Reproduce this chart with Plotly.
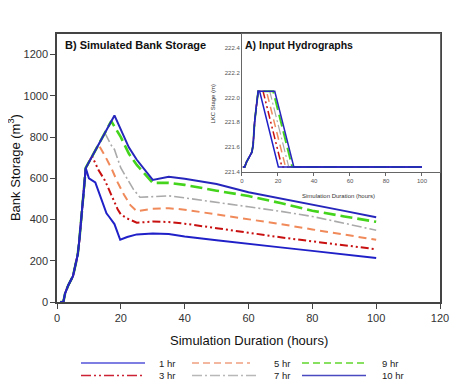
import plotly.graph_objects as go

# ---------------- data: B) simulated bank storage ----------------
rise_x = [1, 2, 2.5, 3.5, 5, 6, 6.5, 7, 7.5, 8, 8.5, 9]
rise_y = [0, 0, 40, 80, 125, 190, 230, 300, 400, 470, 560, 650]

s1_x = [10, 12, 13, 14, 15.5, 16.5, 18, 19.8, 22, 25, 30, 35, 40, 50, 60, 70, 80, 90, 100]
s1_y = [600, 580, 540, 500, 430, 410, 378, 302, 315, 328, 332, 330, 318, 300, 284, 265, 248, 230, 213]
s3_x = [11, 13, 15, 17, 19, 20, 22, 25, 30, 35, 40, 50, 60, 70, 80, 90, 100]
s3_y = [707, 640, 590, 520, 450, 425, 405, 385, 390, 388, 380, 358, 335, 314, 294, 274, 256]
s5_x = [13, 15, 17, 19, 21, 23, 25, 30, 35, 40, 50, 60, 70, 80, 90, 100]
s5_y = [763, 710, 650, 580, 520, 470, 440, 452, 455, 448, 425, 403, 378, 352, 327, 302]
s7_x = [15, 17, 18, 20, 22, 24, 26, 30, 35, 40, 50, 60, 70, 80, 90, 100]
s7_y = [820, 760, 740, 650, 600, 545, 508, 512, 515, 505, 482, 462, 440, 415, 382, 348]
s9_x = [17, 20, 22.5, 25, 28, 30, 35, 40, 50, 60, 70, 80, 90, 100]
s9_y = [877, 800, 720, 665, 610, 578, 578, 568, 540, 514, 480, 443, 415, 389]
s10_x = [18, 22.5, 25, 30, 35, 40, 50, 60, 70, 80, 90, 100]
s10_y = [905, 750, 690, 592, 608, 598, 572, 532, 503, 473, 442, 411]

# ---------------- data: A) input hydrographs ----------------
h_rise_t = [0.5, 1.5, 2.5, 3.5, 4.5, 5.5, 6.2, 7.0, 8.0, 9.0]
h_rise_s = [221.44, 221.44, 221.48, 221.51, 221.53, 221.56, 221.62, 221.80, 221.93, 222.05]
h_peak = 222.05
h_base = 221.44
h_end_t = 100
h_fall_start = {"1 hr": 9.8, "3 hr": 11.7, "5 hr": 13.6, "7 hr": 15.4, "9 hr": 17.3, "10 hr": 18.2}
h_fall_end = {"1 hr": 20.2, "3 hr": 22.2, "5 hr": 24.2, "7 hr": 26.0, "9 hr": 27.9, "10 hr": 28.8}

labels = ["1 hr", "3 hr", "5 hr", "7 hr", "9 hr", "10 hr"]
x_ticks = [0, 20, 40, 60, 80, 100, 120]
y_ticks = [0, 200, 400, 600, 800, 1000, 1200]
ix_ticks = [0, 20, 40, 60, 80, 100]
iy_ticks = [221.4, 221.6, 221.8, 222.0, 222.2, 222.4]

styles = {
    "1 hr": dict(color="#2020c8", width=2, dash="solid"),
    "3 hr": dict(color="#c81010", width=2, dash="8px,3px,2px,3px,2px,3px"),
    "5 hr": dict(color="#f08a5a", width=2, dash="8px,5px"),
    "7 hr": dict(color="#aaaaaa", width=1.6, dash="10px,3px,2px,3px"),
    "9 hr": dict(color="#44d41c", width=2.6, dash="12px,5px"),
    "10 hr": dict(color="#2626bc", width=2, dash="solid"),
}
legend_styles = {
    "1 hr": dict(color="#5252d8", width=1.3, dash="solid"),
    "3 hr": dict(color="#cc2233", width=1.6, dash="10px,3px,2px,3px,2px,3px"),
    "5 hr": dict(color="#f0a080", width=1.5, dash="7px,4px"),
    "7 hr": dict(color="#b8b8b8", width=1.3, dash="10px,3px,2px,3px"),
    "9 hr": dict(color="#88e060", width=1.8, dash="7px,4px"),
    "10 hr": dict(color="#4a4ac0", width=1.3, dash="solid"),
}

main = {
    "1 hr": (s1_x, s1_y), "3 hr": (s3_x, s3_y), "5 hr": (s5_x, s5_y),
    "7 hr": (s7_x, s7_y), "9 hr": (s9_x, s9_y), "10 hr": (s10_x, s10_y),
}

FONT = "Arial, Liberation Sans, sans-serif"
fig = go.Figure()

order = ["3 hr", "5 hr", "7 hr", "9 hr", "1 hr", "10 hr"]
for lab in order:
    xs, ys = main[lab]
    fig.add_trace(go.Scatter(x=rise_x + xs, y=rise_y + ys, mode="lines",
                             line=styles[lab], name=lab, showlegend=False,
                             xaxis="x", yaxis="y"))

for lab in order:
    st = dict(styles[lab])
    st["width"] = st["width"] * 0.75
    t = h_rise_t + [h_fall_start[lab], h_fall_end[lab], h_end_t]
    s = h_rise_s + [h_peak, h_base, h_base]
    fig.add_trace(go.Scatter(x=t, y=s, mode="lines", line=st, name=lab,
                             showlegend=False, xaxis="x2", yaxis="y2"))

axcol = "#444444"
# page has an 8px body margin; figure is sized/offset to compensate
fig.update_layout(
    width=466, height=380,
    margin=dict(l=49, r=34, t=26, b=86),
    paper_bgcolor="white", plot_bgcolor="white",
    font=dict(family=FONT, color="#222"),
    xaxis=dict(range=[0, 120], tickvals=x_ticks, showgrid=False, zeroline=False,
               showline=True, linecolor=axcol, linewidth=1.5, mirror=True,
               ticks="outside", ticklen=5, tickcolor=axcol, automargin=False,
               tickfont=dict(size=11, color="#333")),
    yaxis=dict(range=[0, 1300], tickvals=y_ticks, showgrid=False, zeroline=False,
               showline=True, linecolor=axcol, linewidth=1.5, mirror=True,
               ticks="outside", ticklen=5, tickcolor=axcol, automargin=False,
               tickfont=dict(size=11, color="#333")),
    xaxis2=dict(domain=[0.483, 1.0], anchor="y2", range=[0, 110], tickvals=ix_ticks,
                showgrid=False, zeroline=False, showline=True, linecolor="#666",
                linewidth=1, mirror=True, ticks="outside", ticklen=3, tickcolor="#666",
                automargin=False, tickfont=dict(size=6, color="#555")),
    yaxis2=dict(domain=[0.485, 1.0], anchor="x2", range=[221.4, 222.51], tickvals=iy_ticks,
                tickformat=".1f", showgrid=False, zeroline=False, showline=True,
                linecolor="#666", linewidth=1, mirror=True, ticks="", automargin=False,
                tickfont=dict(size=6, color="#555")),
)

ann = [
    dict(text="<b>B) Simulated Bank Storage</b>", x=0.016, y=0.99, xanchor="left", yanchor="top",
         font=dict(size=11, color="#111")),
    dict(text="<b>A) Input Hydrographs</b>", x=0.486, y=0.99, xanchor="left", yanchor="top",
         font=dict(size=10.5, color="#111")),
    dict(text="Simulation Duration (hours)", x=0.5, y=-0.142, xanchor="center", yanchor="middle",
         font=dict(size=13, color="#111")),
    dict(text="Bank Storage (m<sup>3</sup>)", x=-0.112, y=0.5, xanchor="center", yanchor="middle",
         textangle=-90, font=dict(size=13, color="#111")),
    dict(text="LKC Stage (m)", x=0.407, y=0.74, xanchor="center", yanchor="middle",
         textangle=-90, font=dict(size=6, color="#333")),
    dict(text="Simulation Duration (hours)", x=0.736, y=0.395, xanchor="center", yanchor="middle",
         font=dict(size=6, color="#333")),
]
for a in ann:
    a.update(xref="paper", yref="paper", showarrow=False)
    fig.add_annotation(**a)

# manual legend (reference pixel positions converted to paper coords)
W_PLOT, H_PLOT, L, T = 383, 268, 57, 34
def px(xp):
    return (xp - L) / W_PLOT
def py(yp):
    return 1 - (yp - T) / H_PLOT

legend_pos = {
    "1 hr": (81, 145, 157, 363), "3 hr": (81, 145, 157, 375.5),
    "5 hr": (192, 250, 272, 363), "7 hr": (192, 256, 272, 375.5),
    "9 hr": (302, 366, 380, 363), "10 hr": (302, 366, 380, 375.5),
}
for lab, (x0, x1, xt, yy) in legend_pos.items():
    st = legend_styles[lab]
    fig.add_shape(type="line", xref="paper", yref="paper", x0=px(x0), x1=px(x1),
                  y0=py(yy), y1=py(yy),
                  line=dict(color=st["color"], width=st["width"], dash=st["dash"]))
    fig.add_annotation(text=lab, xref="paper", yref="paper", x=px(xt), y=py(yy),
                       xanchor="left", yanchor="middle", showarrow=False,
                       font=dict(size=9.5, color="#222"))

fig.write_html("out.html")
